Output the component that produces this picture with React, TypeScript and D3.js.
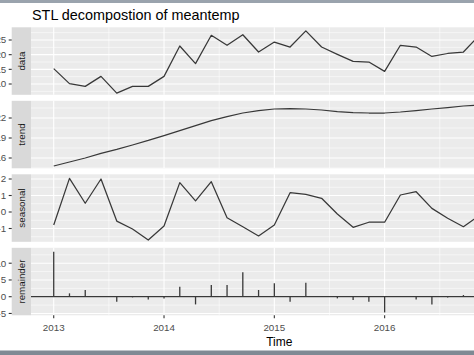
import React from 'react';
import * as d3 from 'd3';

const START = 2013;
const FREQ = 7;

const dataValues = [15.24, 10.12, 9.2, 12.6, 6.9, 9.2, 9.2, 12.6, 22.95, 16.95, 26.6, 23.2, 26.8, 20.9, 24.3, 22.6, 28.1, 22.6, 20.1, 17.7, 17.5, 14.3, 23.2, 22.6, 19.4, 20.4, 20.9, 26.6];
const trendValues = [14.8, 15.4, 16.0, 16.68, 17.28, 17.95, 18.63, 19.37, 20.12, 20.87, 21.62, 22.22, 22.75, 23.12, 23.35, 23.42, 23.35, 23.2, 22.97, 22.82, 22.75, 22.75, 22.9, 23.12, 23.35, 23.57, 23.8, 23.95];
const seasonalValues = [-0.79, 2.04, 0.53, 2.0, -0.55, -1.03, -1.7, -0.85, 1.78, 0.67, 1.84, -0.35, -0.89, -1.45, -0.79, 1.17, 1.07, 0.83, -0.12, -0.93, -0.62, -0.62, 1.03, 1.23, 0.22, -0.38, -0.89, -0.21];
const remainderValues = [13.4, 1.0, 2.0, 0.1, -1.5, -0.2, -0.8, -0.5, 3.0, -2.3, 3.5, 3.5, 7.3, 2.0, 4.0, -1.5, 4.2, 0.1, -0.5, -1.0, -1.5, -4.7, 0.2, -0.8, -2.3, -0.2, 0.5, 0.3];

const xTicks = [2013, 2014, 2015, 2016, 2017];
const xMinor = [2012.5, 2013.5, 2014.5, 2015.5, 2016.5, 2017.5];
const dataTicks = [10, 15, 20, 25];
const trendTicks = [16, 19, 22];
const seasonalTicks = [-1, 0, 1, 2];
const remainderTicks = [-5, 0, 5, 10];

const panelNames = ['data', 'trend', 'seasonal', 'remainder'];
const panelDomains: [number, number][] = [
  [6.32, 29.33],
  [14.455, 24.58],
  [-1.806, 2.285],
  [-5.55, 14.6],
];
const panelTicks = [dataTicks, trendTicks, seasonalTicks, remainderTicks];
const panelSeries = [dataValues, trendValues, seasonalValues, remainderValues];

const W = 474;
const H = 355;
const stripX0 = 11.7;
const panelX0 = 31;
const panelX1 = 531;
const panelTop0 = 27.3;
const panelH = 67.5;
const panelStep = 73.5;

function minorsOf(ticks: number[], domain: [number, number]) {
  const step = ticks.length > 1 ? ticks[1] - ticks[0] : 1;
  const out: number[] = [];
  const start = ticks[0] - step * 5;
  for (let i = 0; i < ticks.length + 10; i++) {
    const v = start + step * i + step / 2;
    if (v > domain[0] && v < domain[1]) out.push(v);
  }
  return out;
}

export default function App() {
  const x = d3.scaleLinear().domain([2012.794, 2017.327]).range([panelX0, panelX1]);
  const tOf = (i: number) => START + i / FREQ;
  const font = '"Liberation Sans", Arial, sans-serif';
  const ink = '#383838';

  return (
    <svg width={W} height={H} style={{ position: 'absolute', left: 0, top: 0, background: '#fff' }}
      fontFamily={font}>
      <rect x={0} y={0} width={W} height={H} fill="#ffffff" />
      <text x={32} y={19.5} fontSize={14.4} fill="#000">STL decompostion of meantemp</text>
      {panelNames.map((name, p) => {
        const top = panelTop0 + p * panelStep;
        const bottom = top + panelH;
        const y = d3.scaleLinear().domain(panelDomains[p]).range([bottom, top]);
        const vals = panelSeries[p];
        const ticks = panelTicks[p];
        const minors = minorsOf(ticks, panelDomains[p]);
        const line = d3.line<number>().x((_, i) => x(tOf(i))).y((d) => y(d));
        const cy = (top + bottom) / 2;
        return (
          <g key={name}>
            <rect x={panelX0} y={top} width={panelX1 - panelX0} height={panelH} fill="#EBEBEB" />
            {minors.map((m) => (
              <line key={'hm' + m} x1={panelX0} x2={panelX1} y1={y(m)} y2={y(m)} stroke="#fff" strokeWidth={0.55} />
            ))}
            {xMinor.filter((v) => x(v) > panelX0).map((m) => (
              <line key={'vm' + m} x1={x(m)} x2={x(m)} y1={top} y2={bottom} stroke="#fff" strokeWidth={0.55} />
            ))}
            {ticks.map((t) => (
              <line key={'hM' + t} x1={panelX0} x2={panelX1} y1={y(t)} y2={y(t)} stroke="#fff" strokeWidth={1.1} />
            ))}
            {xTicks.map((t) => (
              <line key={'vM' + t} x1={x(t)} x2={x(t)} y1={top} y2={bottom} stroke="#fff" strokeWidth={1.1} />
            ))}
            {p < 3 ? (
              <path d={line(vals) || ''} fill="none" stroke={ink} strokeWidth={1.25} strokeLinejoin="round" />
            ) : (
              <g>
                <line x1={panelX0} x2={panelX1} y1={y(0)} y2={y(0)} stroke={ink} strokeWidth={1.25} />
                {vals.map((v, i) => (
                  <line key={i} x1={x(tOf(i))} x2={x(tOf(i))} y1={y(0)} y2={y(v)} stroke={ink} strokeWidth={1.3} />
                ))}
              </g>
            )}
            <rect x={stripX0} y={top} width={panelX0 - stripX0} height={panelH} fill="#D9D9D9" />
            <text x={0} y={0} transform={`translate(${(stripX0 + panelX0) / 2 + 3.4},${cy}) rotate(-90)`}
              textAnchor="middle" fontSize={9.8} fill="#1A1A1A">{name}</text>
            {ticks.map((t) => (
              <g key={'tk' + t}>
                <line x1={stripX0 - 3} x2={stripX0} y1={y(t)} y2={y(t)} stroke="#333" strokeWidth={1.1} />
                <text x={stripX0 - 5.4} y={y(t) + 3.4} textAnchor="end" fontSize={9.8} fill="#4D4D4D">{t < 0 ? '-' + Math.abs(t) : String(t)}</text>
              </g>
            ))}
          </g>
        );
      })}
      {xTicks.map((t) => {
        const bottom = panelTop0 + 3 * panelStep + panelH;
        return (
          <g key={'xt' + t}>
            <line x1={x(t)} x2={x(t)} y1={bottom} y2={bottom + 3} stroke="#333" strokeWidth={1.1} />
            <text x={x(t)} y={bottom + 16} textAnchor="middle" fontSize={9.8} fill="#4D4D4D">{t}</text>
          </g>
        );
      })}
      <text x={x(2015) + 5} y={346} textAnchor="middle" fontSize={12} fill="#000">Time</text>
      <rect x={0} y={0} width={W} height={3} fill="#9aa3ad" />
      <rect x={0} y={350.5} width={W} height={4.5} fill="#7f8a94" />
    </svg>
  );
}
